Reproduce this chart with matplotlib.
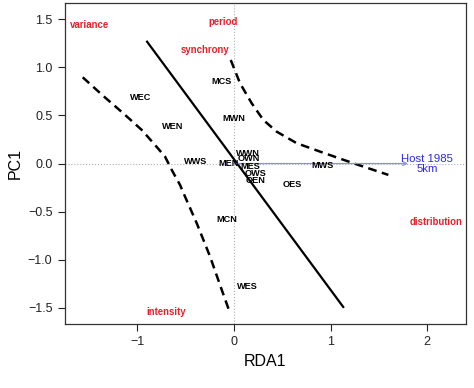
""" RDA biplot: sites, explanatory variables and host vector """
import matplotlib
matplotlib.use("Agg")
import matplotlib.pyplot as plt

plt.rcParams["font.family"] = ["Liberation Sans", "DejaVu Sans"]

# site scores
sites = ["WEC", "WEN", "MCS", "MWN", "WWS", "MEN", "WWN", "OWN", "MES",
         "OWS", "OEN", "OES", "MWS", "MCN", "WES"]
site_x = [-0.97, -0.64, -0.13, 0.00, -0.40, -0.06, 0.14, 0.15, 0.17,
          0.22, 0.22, 0.60, 0.92, -0.07, 0.14]
site_y = [0.69, 0.38, 0.85, 0.47, 0.02, 0.00, 0.107, 0.05, -0.03,
          -0.10, -0.18, -0.22, -0.025, -0.58, -1.28]

# variable labels (red)
variables = ["variance", "period", "synchrony", "distribution", "intensity"]
var_x = [-1.50, -0.11, -0.30, 2.09, -0.70]
var_y = [1.44, 1.47, 1.18, -0.61, -1.54]

# host vector
host_x = 1.80
host_y = 0.0
host_label = "Host 1985\n5km"

# fitted line and dashed bands
fit_x = [-0.90, 1.13]
fit_y = [1.266, -1.49]
band1_x = [-1.566, -1.353, -1.146, -0.955, -0.818, -0.714, -0.645, -0.559,
           -0.507, -0.386, -0.248, -0.127, -0.041]
band1_y = [0.896, 0.702, 0.522, 0.349, 0.193, 0.072, -0.066, -0.222,
           -0.344, -0.620, -0.967, -1.313, -1.555]
band2_x = [-0.034, 0.062, 0.183, 0.303, 0.442, 0.649, 0.890, 1.235, 1.597]
band2_y = [1.076, 0.834, 0.626, 0.453, 0.331, 0.211, 0.124, 0.003, -0.118]

fig = plt.figure(figsize=(4.74, 3.88), dpi=100, facecolor="w")
ax = fig.add_axes([0.137, 0.165, 0.846, 0.827])

ax.axhline(0, color="#b0b0b0", lw=0.8, ls=":")
ax.axvline(0, color="#b0b0b0", lw=0.8, ls=":")

ax.plot(fit_x, fit_y, color="black", lw=1.6)
ax.plot(band1_x, band1_y, color="black", lw=1.8, ls=(0, (3.5, 2.2)))
ax.plot(band2_x, band2_y, color="black", lw=1.8, ls=(0, (3.5, 2.2)))

ax.annotate("", xy=(host_x, host_y), xytext=(0, 0),
            arrowprops=dict(arrowstyle="->", color="#8c8cf5", lw=0.9,
                            shrinkA=0, shrinkB=0, mutation_scale=7))
ax.text(2.0, host_y, host_label, color="#2a2ae0", fontsize=8.2,
        ha="center", va="center", linespacing=1.0)

for name, x, y in zip(sites, site_x, site_y):
    ax.text(x, y, name, fontsize=6.6, fontweight="bold", ha="center", va="center")

for name, x, y in zip(variables, var_x, var_y):
    ax.text(x, y, name, fontsize=6.9, fontweight="bold", color="#e8202a",
            ha="center", va="center")

ax.set_xlim(-1.75, 2.40)
ax.set_ylim(-1.667, 1.667)
ax.set_xticks([-1, 0, 1, 2])
ax.set_xticklabels(["\u22121", "0", "1", "2"])
ax.set_yticks([-1.5, -1.0, -0.5, 0.0, 0.5, 1.0, 1.5])
ax.set_yticklabels(["\u22121.5", "\u22121.0", "\u22120.5", "0.0", "0.5", "1.0", "1.5"])
ax.tick_params(direction="out", length=5, width=0.8, labelsize=9, colors="#222222", pad=4)
for s in ax.spines.values():
    s.set_linewidth(0.9)
    s.set_color("#333333")

ax.set_xlabel("RDA1", fontsize=11.5, labelpad=4)
ax.set_ylabel("PC1", fontsize=11.5, labelpad=4)

plt.savefig("out.png", dpi=100, facecolor="w")
